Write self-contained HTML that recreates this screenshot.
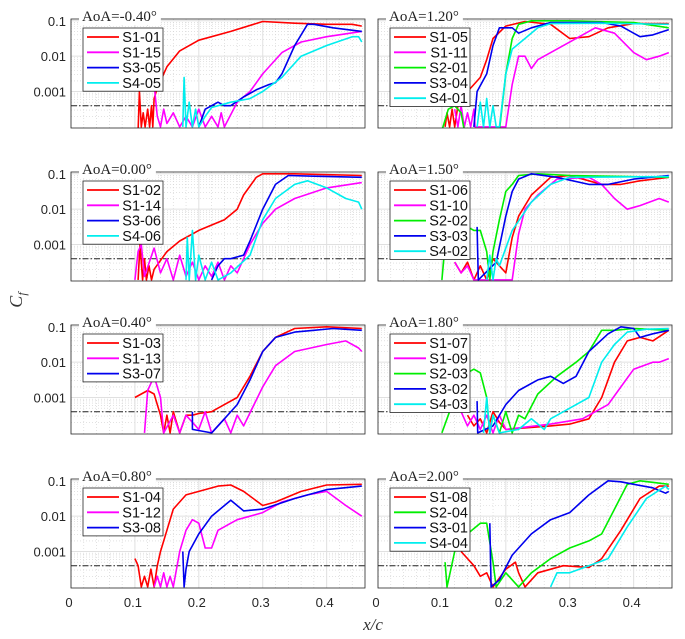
<!DOCTYPE html>
<html><head><meta charset="utf-8"><style>
body{margin:0;background:#fff}
svg{display:block;font-family:"Liberation Sans",sans-serif}
</style></head><body>
<svg id="c" width="685" height="639" viewBox="0 0 685 639"></svg>
<script>
const titles=["AoA=-0.40°","AoA=1.20°","AoA=0.00°","AoA=1.50°","AoA=0.40°","AoA=1.80°","AoA=0.80°","AoA=2.00°"];
const names=[["S1-01","S1-15","S3-05","S4-05"],["S1-05","S1-11","S2-01","S3-04","S4-01"],["S1-02","S1-14","S3-06","S4-06"],["S1-06","S1-10","S2-02","S3-03","S4-02"],["S1-03","S1-13","S3-07"],["S1-07","S1-09","S2-03","S3-02","S4-03"],["S1-04","S1-12","S3-08"],["S1-08","S2-04","S3-01","S4-04"]];
const colorsP=[["r","m","b","c"],["r","m","g","b","c"],["r","m","b","c"],["r","m","g","b","c"],["r","m","b"],["r","m","g","b","c"],["r","m","b"],["r","g","b","c"]];
const xTicks=[0,0.1,0.2,0.3,0.4];
const yTicks=[-1,-2,-3];
const yTickLabels=["0.1","0.01","0.001"];
const threshold=-3.4;
// series: [x, log10(Cf)]
const d0=[
[[0.105,-4.1],[0.107,-3.0],[0.11,-4],[0.113,-3.6],[0.116,-4],[0.12,-3.5],[0.123,-4],[0.126,-3.4],[0.128,-4],[0.13,-3.2],[0.135,-2.9],[0.15,-2.3],[0.17,-1.85],[0.2,-1.55],[0.25,-1.3],[0.3,-1.02],[0.35,-1.07],[0.4,-1.1],[0.44,-1.1],[0.455,-1.15]],
[[0.13,-2.8],[0.135,-3.7],[0.14,-4],[0.145,-3.5],[0.15,-3.9],[0.16,-3.6],[0.17,-4],[0.18,-3.7],[0.19,-4],[0.2,-3.5],[0.21,-4],[0.22,-3.7],[0.23,-4],[0.235,-3.6],[0.24,-4],[0.26,-3.3],[0.28,-3.0],[0.3,-2.5],[0.33,-1.9],[0.36,-1.6],[0.4,-1.45],[0.455,-1.3]],
[[0.2,-4],[0.21,-3.5],[0.23,-3.3],[0.24,-3.4],[0.25,-3.4],[0.27,-3.15],[0.29,-2.95],[0.31,-2.8],[0.32,-2.75],[0.33,-2.5],[0.35,-1.7],[0.37,-1.1],[0.38,-1.1],[0.41,-1.2],[0.455,-1.3]],
[[0.175,-4],[0.177,-2.6],[0.18,-4],[0.185,-3.3],[0.19,-4],[0.195,-3.5],[0.2,-4],[0.21,-3.7],[0.22,-3.45],[0.25,-3.3],[0.28,-3.2],[0.3,-3.0],[0.33,-2.6],[0.36,-2.0],[0.4,-1.7],[0.44,-1.45],[0.45,-1.45],[0.455,-1.6]]];
const d1=[
[[0.105,-4],[0.108,-3.6],[0.112,-4],[0.116,-3.5],[0.12,-4],[0.125,-3.4],[0.14,-3.0],[0.15,-2.8],[0.16,-2.6],[0.17,-2.1],[0.18,-1.5],[0.2,-1.15],[0.23,-1.02],[0.27,-1.1],[0.3,-1.5],[0.33,-1.45],[0.36,-1.2],[0.4,-1.08],[0.455,-1.08]],
[[0.12,-3.5],[0.125,-4],[0.13,-3.4],[0.135,-4],[0.14,-3.6],[0.145,-4],[0.15,-3.5],[0.152,-4],[0.2,-4],[0.21,-2.8],[0.22,-2.0],[0.23,-2.0],[0.24,-2.35],[0.25,-2.1],[0.28,-1.8],[0.32,-1.4],[0.34,-1.2],[0.37,-1.35],[0.4,-1.9],[0.42,-2.1],[0.44,-2.0],[0.455,-1.9]],
[[0.1,-4.1],[0.105,-3.8],[0.11,-3.5],[0.12,-3.4],[0.13,-3.6],[0.135,-4.1],[0.19,-4.1],[0.2,-2.5],[0.21,-1.5],[0.22,-1.1],[0.24,-1.0],[0.3,-1.0],[0.4,-1.05],[0.455,-1.2]],
[[0.15,-4],[0.155,-3.0],[0.17,-2.5],[0.18,-1.7],[0.19,-1.2],[0.21,-1.2],[0.22,-1.35],[0.24,-1.2],[0.27,-1.05],[0.35,-1.05],[0.38,-1.15],[0.41,-1.45],[0.43,-1.4],[0.455,-1.25]],
[[0.155,-4],[0.16,-3.3],[0.165,-4],[0.17,-3.2],[0.175,-4],[0.18,-3.4],[0.185,-4],[0.19,-4],[0.2,-2.5],[0.21,-1.8],[0.23,-1.5],[0.25,-1.2],[0.27,-1.08],[0.35,-1.07],[0.455,-1.1]]];
const d2=[
[[0.105,-4],[0.108,-3.0],[0.112,-4],[0.115,-3.4],[0.118,-4],[0.122,-3.6],[0.126,-4],[0.13,-3.7],[0.15,-3.2],[0.17,-2.9],[0.2,-2.6],[0.24,-2.3],[0.26,-2.0],[0.27,-1.6],[0.29,-1.1],[0.3,-1.0],[0.35,-1.0],[0.455,-1.05]],
[[0.1,-4],[0.105,-3.2],[0.11,-3.0],[0.115,-3.9],[0.13,-3.1],[0.14,-3.8],[0.15,-3.4],[0.16,-4],[0.17,-3.3],[0.18,-3.9],[0.19,-3.5],[0.2,-4],[0.21,-3.6],[0.22,-3.9],[0.23,-3.5],[0.24,-4],[0.25,-3.6],[0.26,-3.8],[0.28,-3.0],[0.3,-2.4],[0.32,-2.0],[0.35,-1.7],[0.4,-1.4],[0.455,-1.25]],
[[0.22,-4],[0.23,-3.6],[0.24,-3.4],[0.25,-3.4],[0.26,-3.35],[0.27,-3.3],[0.28,-2.9],[0.3,-2.0],[0.32,-1.3],[0.34,-1.05],[0.38,-1.07],[0.455,-1.1]],
[[0.18,-4],[0.182,-2.8],[0.185,-4],[0.19,-2.6],[0.195,-4],[0.2,-3.3],[0.21,-4],[0.22,-3.5],[0.23,-4],[0.25,-3.8],[0.28,-3.3],[0.3,-2.3],[0.32,-1.7],[0.35,-1.3],[0.37,-1.2],[0.4,-1.4],[0.43,-1.7],[0.45,-1.8],[0.455,-2.0]]];
const d3=[
[[0.12,-3.5],[0.13,-3.8],[0.14,-3.5],[0.15,-4],[0.16,-3.6],[0.17,-4],[0.18,-3.4],[0.19,-3.6],[0.2,-3.8],[0.21,-2.8],[0.22,-2.2],[0.24,-1.6],[0.27,-1.1],[0.3,-1.05],[0.33,-1.2],[0.35,-1.3],[0.38,-1.3],[0.41,-1.2],[0.455,-1.1]],
[[0.12,-3.5],[0.13,-3.8],[0.14,-3.6],[0.15,-4],[0.21,-4],[0.22,-2.7],[0.23,-2.0],[0.25,-1.6],[0.28,-1.15],[0.33,-1.1],[0.35,-1.3],[0.37,-1.7],[0.39,-2.0],[0.41,-1.9],[0.44,-1.7],[0.455,-1.8]],
[[0.1,-4],[0.105,-3.0],[0.11,-2.4],[0.13,-2.4],[0.15,-2.6],[0.16,-2.6],[0.17,-3.2],[0.175,-4],[0.18,-3.2],[0.19,-2.3],[0.2,-1.5],[0.21,-1.3],[0.22,-1.05],[0.25,-1.0],[0.3,-1.05],[0.455,-1.1]],
[[0.155,-2.5],[0.157,-4],[0.185,-3.5],[0.2,-2.2],[0.21,-1.5],[0.22,-1.15],[0.24,-1.0],[0.28,-1.1],[0.33,-1.3],[0.36,-1.3],[0.4,-1.15],[0.455,-1.05]],
[[0.17,-4],[0.175,-3.3],[0.18,-4],[0.185,-3.4],[0.19,-3.6],[0.21,-2.6],[0.24,-1.8],[0.27,-1.3],[0.3,-1.1],[0.455,-1.08]]];
const d4=[
[[0.1,-3.0],[0.12,-2.8],[0.13,-2.9],[0.14,-3.5],[0.145,-4],[0.15,-3.5],[0.155,-4],[0.16,-3.4],[0.17,-4],[0.18,-3.5],[0.19,-3.5],[0.2,-3.45],[0.22,-3.4],[0.24,-3.2],[0.26,-3.0],[0.28,-2.4],[0.3,-1.7],[0.32,-1.3],[0.35,-1.05],[0.4,-1.0],[0.455,-1.05]],
[[0.115,-4],[0.12,-2.8],[0.13,-2.4],[0.14,-3.0],[0.145,-4],[0.16,-3.5],[0.17,-4],[0.18,-3.5],[0.2,-3.9],[0.21,-3.4],[0.22,-4],[0.24,-3.6],[0.25,-4],[0.26,-3.5],[0.27,-3.8],[0.3,-2.7],[0.32,-2.1],[0.35,-1.7],[0.4,-1.5],[0.43,-1.4],[0.45,-1.6],[0.455,-1.7]],
[[0.19,-3.4],[0.19,-3.9],[0.22,-4],[0.24,-3.6],[0.26,-3.2],[0.28,-2.5],[0.3,-1.7],[0.32,-1.3],[0.35,-1.15],[0.38,-1.1],[0.41,-1.05],[0.455,-1.1]]];
const d5=[
[[0.14,-3.5],[0.15,-3.8],[0.16,-3.6],[0.17,-4],[0.18,-3.4],[0.19,-3.7],[0.2,-3.9],[0.27,-3.8],[0.3,-3.75],[0.33,-3.6],[0.35,-3.0],[0.37,-2.0],[0.39,-1.4],[0.41,-1.3],[0.43,-1.4],[0.455,-1.1]],
[[0.13,-3.4],[0.14,-3.8],[0.15,-3.5],[0.16,-3.9],[0.17,-3.5],[0.18,-4],[0.19,-3.5],[0.2,-3.9],[0.27,-3.75],[0.32,-3.6],[0.36,-3.2],[0.38,-2.7],[0.4,-2.2],[0.43,-2.0],[0.44,-2.0],[0.455,-1.9]],
[[0.1,-4],[0.11,-3.5],[0.12,-3.0],[0.13,-2.4],[0.15,-2.2],[0.16,-2.3],[0.17,-3],[0.175,-4],[0.18,-3.5],[0.19,-4],[0.2,-3.4],[0.21,-4],[0.22,-3.5],[0.23,-3.6],[0.25,-2.9],[0.28,-2.4],[0.31,-2.0],[0.33,-1.7],[0.35,-1.1],[0.37,-1.1],[0.4,-1.05],[0.455,-1.1]],
[[0.155,-3.1],[0.156,-4],[0.18,-3.8],[0.2,-3.2],[0.22,-2.8],[0.25,-2.5],[0.27,-2.4],[0.29,-2.6],[0.31,-2.4],[0.33,-1.7],[0.36,-1.2],[0.38,-1.0],[0.4,-1.05],[0.41,-1.3],[0.43,-1.2],[0.455,-1.1]],
[[0.165,-4],[0.17,-3.0],[0.175,-4],[0.18,-3.5],[0.19,-4],[0.22,-3.9],[0.24,-3.6],[0.26,-3.9],[0.27,-3.6],[0.3,-3.3],[0.33,-3.0],[0.35,-2.0],[0.37,-1.5],[0.39,-1.15],[0.42,-1.07],[0.455,-1.05]]];
const d6=[
[[0.1,-3.2],[0.105,-3.4],[0.11,-4],[0.115,-3.7],[0.12,-4],[0.125,-3.5],[0.13,-4],[0.135,-3.4],[0.14,-3.0],[0.15,-2.4],[0.16,-1.8],[0.18,-1.4],[0.2,-1.3],[0.23,-1.15],[0.25,-1.12],[0.27,-1.3],[0.3,-1.7],[0.32,-1.6],[0.36,-1.3],[0.4,-1.12],[0.455,-1.1]],
[[0.13,-4],[0.135,-3.7],[0.14,-4],[0.145,-3.6],[0.15,-4],[0.155,-3.7],[0.16,-4],[0.17,-3.0],[0.18,-2.4],[0.19,-2.1],[0.2,-2.2],[0.21,-2.9],[0.22,-2.9],[0.23,-2.4],[0.25,-2.2],[0.26,-2.1],[0.28,-2.0],[0.3,-1.9],[0.33,-1.6],[0.37,-1.4],[0.4,-1.3],[0.43,-1.7],[0.455,-2.0]],
[[0.175,-3.0],[0.177,-4],[0.18,-3.5],[0.185,-3.0],[0.2,-2.5],[0.22,-2.0],[0.25,-1.55],[0.27,-1.85],[0.3,-1.8],[0.35,-1.5],[0.4,-1.25],[0.455,-1.15]]];
const d7=[
[[0.13,-3.0],[0.15,-3.4],[0.16,-3.7],[0.17,-3.6],[0.18,-4],[0.2,-3.5],[0.215,-3.3],[0.22,-3.6],[0.23,-4],[0.25,-3.6],[0.29,-3.4],[0.33,-3.45],[0.35,-3.2],[0.38,-2.4],[0.41,-1.5],[0.44,-1.15],[0.455,-1.15]],
[[0.105,-3.3],[0.108,-4],[0.12,-3.0],[0.14,-2.5],[0.16,-2.2],[0.17,-2.2],[0.18,-3.3],[0.185,-4],[0.2,-3.6],[0.22,-4],[0.24,-3.6],[0.27,-3.2],[0.3,-2.9],[0.33,-2.7],[0.35,-2.5],[0.37,-1.8],[0.39,-1.1],[0.41,-1.0],[0.455,-1.1]],
[[0.175,-2.2],[0.177,-4],[0.19,-3.8],[0.21,-3.1],[0.24,-2.5],[0.27,-2.1],[0.3,-1.9],[0.33,-1.4],[0.36,-1.0],[0.38,-1.03],[0.4,-1.1],[0.43,-1.2],[0.45,-1.35],[0.455,-1.3]],
[[0.27,-4],[0.28,-3.6],[0.3,-3.6],[0.33,-3.4],[0.36,-3.2],[0.39,-2.3],[0.42,-1.5],[0.45,-1.15],[0.455,-1.25]]];
const allData=[d0,d1,d2,d3,d4,d5,d6,d7];
const COL={r:"#ff0000",m:"#ff00ff",g:"#00ee00",b:"#0000ee",c:"#00eeee"};
const NS="http://www.w3.org/2000/svg";
const svg=document.getElementById("c");
function mk(tag,attrs,parent){const e=document.createElementNS(NS,tag);for(const k in attrs)e.setAttribute(k,attrs[k]);(parent||svg).appendChild(e);return e;}
const PW=294,PH=109,XMAX=0.46,YMIN=-4.03,YMAX=-0.95;
for(let p=0;p<8;p++){
  const col=p%2,row=Math.floor(p/2);
  const L=col?378:71, T=[19,172,325,479][row];
  const xs=v=>L+v/XMAX*PW, ys=v=>T+(YMAX-v)/(YMAX-YMIN)*PH;
  const g=mk("g",{});
  
  
  for(let dec=-4;dec<=-2;dec++)for(let k=2;k<10;k++){const v=dec+Math.log10(k);if(v>YMAX)continue;const y=ys(v);mk("line",{x1:L,x2:L+PW,y1:y,y2:y,stroke:"#d0d0d0","stroke-width":0.6,"stroke-dasharray":"1,2"},g);}
  for(let x=0.02;x<XMAX;x+=0.02){if(Math.abs(x*10-Math.round(x*10))<1e-6)continue;const X=xs(x);mk("line",{x1:X,x2:X,y1:T,y2:T+PH,stroke:"#d0d0d0","stroke-width":0.6,"stroke-dasharray":"1,2"},g);}
  yTicks.forEach((v,i)=>{const y=ys(v);mk("line",{x1:L,x2:L+PW,y1:y,y2:y,stroke:"#e0e0e0","stroke-width":1},g);
    if(col===0){const t=mk("text",{x:L-5,y:y+5,"text-anchor":"end","font-size":13,fill:"#262626"},g);t.textContent=yTickLabels[i];}});
  xTicks.forEach(v=>{const X=xs(v);mk("line",{x1:X,x2:X,y1:T,y2:T+PH,stroke:"#e0e0e0","stroke-width":1},g);
    if(row===3){const t=mk("text",{x:X-2,y:T+PH+19,"text-anchor":"middle","font-size":13,fill:"#262626"},g);t.textContent=String(v);}});
  const ty=ys(threshold);
  const th=mk("line",{x1:L,x2:L+PW,y1:ty,y2:ty,stroke:"#222","stroke-width":1,"stroke-dasharray":"6,2,1.5,2"},g);
  
  const cp=mk("clipPath",{id:"cp"+p},g);mk("rect",{x:L,y:T,width:PW,height:PH},cp);
  const sg=mk("g",{"clip-path":"url(#cp"+p+")"},g);
  allData[p].forEach((s,i)=>{
    const pl=mk("polyline",{points:s.map(q=>xs(q[0]).toFixed(1)+","+ys(q[1]).toFixed(1)).join(" "),fill:"none",stroke:COL[colorsP[p][i]],"stroke-width":1.6,"stroke-linejoin":"round"},sg);
    
    
  });
  const box=mk("rect",{x:L,y:T,width:PW,height:PH,fill:"none",stroke:"#262626","stroke-width":0.8},g);
  
  const tb=mk("rect",{x:L+8,y:T-9,width:80,height:15,fill:"#fff"},g);
  const tt=mk("text",{x:L+11,y:T+2,"font-size":15,"font-family":"Liberation Serif,serif",fill:"#222"},g);
  tt.textContent=titles[p];
  tb.setAttribute('width',tt.getComputedTextLength()+7);
  const n=names[p].length,lx=L+12,ly=T+9;
  const lg=mk("g",{},g);
  mk("rect",{x:lx,y:ly,width:80,height:n*15.3+2,fill:"#fff",stroke:"#262626","stroke-width":0.8},lg);
  names[p].forEach((nm,i)=>{const y=ly+9+i*15.3;
    const en=mk("g",{},lg);
    mk("line",{x1:lx+4,x2:lx+36,y1:y,y2:y,stroke:COL[colorsP[p][i]],"stroke-width":1.8},en);
    const t=mk("text",{x:lx+78,y:y+5,"text-anchor":"end","font-size":14.5,fill:"#111"},en);t.textContent=nm;});
}
const xl=mk("text",{x:373,y:630,"text-anchor":"middle","font-size":17,"font-style":"italic","font-family":"Liberation Serif,serif",fill:"#333"});
xl.textContent="x/c";
const yl=mk("text",{x:22,y:300,"text-anchor":"middle","font-size":18,"font-style":"italic","font-family":"Liberation Serif,serif",fill:"#333",transform:"rotate(-90 22 300)"});
yl.innerHTML='C<tspan font-size="12" dy="4">f</tspan>';
</script>
</body></html>
